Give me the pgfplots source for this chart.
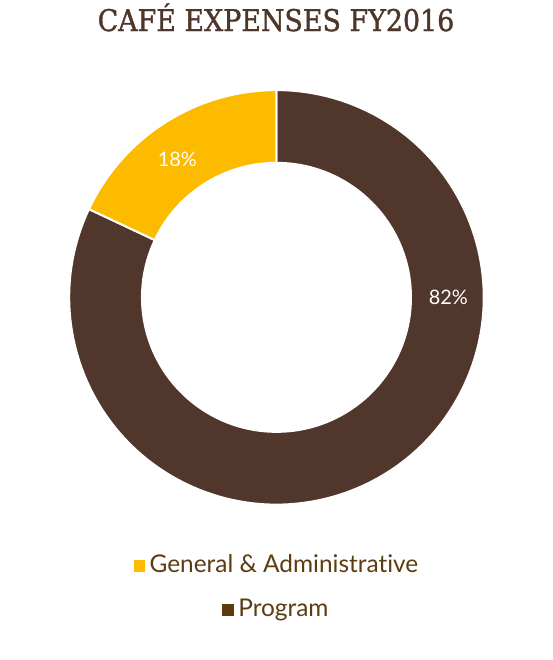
\documentclass[border=0pt]{standalone}
\usepackage{fontspec}
\setmainfont[Ligatures={NoCommon,NoRare,NoDiscretionary}]{Lato}
\newfontfamily\titlefont[FakeBold=1.2]{DejaVu Serif Condensed}
\usepackage{pgfplots}
\usepackage{pgfplotstable}
\pgfplotsset{compat=1.18}

\definecolor{donutbrown}{HTML}{51362B}
\definecolor{gagold}{HTML}{FDBB00}
\definecolor{titlebrown}{HTML}{4F362A}
\definecolor{legendbrown}{HTML}{5C3C10}
\definecolor{progsq}{HTML}{5C3A0B}

\pgfplotstableread{
label value
GA 18
Program 82
}\expenses

\begin{document}
\begin{tikzpicture}
\pgfplotstablegetelem{0}{value}\of\expenses
\let\gaval\pgfplotsretval
\begin{axis}[
    scale only axis,
    width=555pt, height=660pt,
    xmin=0, xmax=555, ymin=0, ymax=660,
    hide axis,
    clip=false,
]
\path (axis cs:0,0) (axis cs:555,660);
% donut centre (277.5,364), outer radius 208, inner 135
\pgfmathsetmacro{\gaend}{90+\gaval*3.6}
\fill[donutbrown, draw=white, line width=2pt]
    (axis cs:277.5,364) ++(\gaend:208pt)
    arc[start angle=\gaend, end angle=450, radius=208pt]
    -- ++(-90:73pt)
    arc[start angle=450, end angle=\gaend, radius=135pt] -- cycle;
\fill[gagold, draw=white, line width=2pt]
    (axis cs:277.5,364) ++(90:208pt)
    arc[start angle=90, end angle=\gaend, radius=208pt]
    -- ++(\gaend+180:73pt)
    arc[start angle=\gaend, end angle=90, radius=135pt] -- cycle;

\node[white, font=\fontsize{20}{22}\selectfont] at (axis cs:178,502) {18\%};
\node[white, font=\fontsize{20}{22}\selectfont] at (axis cs:450,364) {82\%};

\node[titlebrown, font=\titlefont\fontsize{30}{32}\selectfont] at (axis cs:277,645) {CAFÉ EXPENSES FY2016};

\fill[gagold] (axis cs:134,88) rectangle (axis cs:146,100);
\node[legendbrown, anchor=base west, inner sep=0pt, font=\fontsize{24.5}{26}\selectfont] at (axis cs:150,88) {General \& Administrative};
\fill[progsq] (axis cs:223,44) rectangle (axis cs:235,56);
\node[legendbrown, anchor=base west, inner sep=0pt, font=\fontsize{24.5}{26}\selectfont] at (axis cs:239,44) {Program};
\end{axis}
\end{tikzpicture}
\end{document}
